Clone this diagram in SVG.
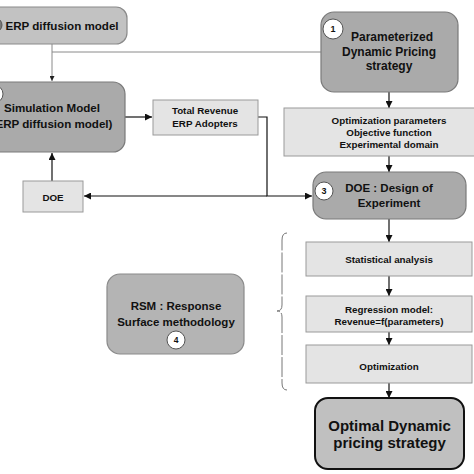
<svg xmlns="http://www.w3.org/2000/svg" width="474" height="474" viewBox="0 0 474 474">
<defs>
<style>
.t{font-family:"Liberation Sans",Arial,sans-serif;font-weight:bold;fill:#111;text-anchor:middle}
.big{font-size:11.6px}
.sm{font-size:9.8px}
.dark{fill:#aaaaaa;stroke:#7a7a7a;stroke-width:1.2}
.mid{fill:#c2c2c2;stroke:#8a8a8a;stroke-width:1.2}
.light{fill:#e4e4e4;stroke:#9a9a9a;stroke-width:1}
.num{fill:#fff;stroke:#555;stroke-width:1}
.c{fill:none;stroke:#111;stroke-width:1.2}
.g{fill:none;stroke:#8a8a8a;stroke-width:1}
</style>
<marker id="ah" viewBox="0 0 10 10" refX="10" refY="5" markerWidth="7" markerHeight="7" markerUnits="userSpaceOnUse" orient="auto">
<path d="M0,0 L10,5 L0,10 z" fill="#111"/>
</marker>
<marker id="ahs" viewBox="0 0 10 10" refX="10" refY="5" markerWidth="5" markerHeight="5" markerUnits="userSpaceOnUse" orient="auto">
<path d="M0,0 L10,5 L0,10 z" fill="#222"/>
</marker>
</defs>

<g id="connectors">
<path class="g" d="M52,44 V81" marker-end="url(#ahs)"/>
<path class="g" d="M52,52 H321"/>
<path class="c" d="M125,117 H152" marker-end="url(#ah)"/>
<path class="c" d="M258,117 H267 V196 H312" marker-end="url(#ah)"/>
<path class="c" d="M267,196 H84" marker-end="url(#ah)"/>
<path class="c" d="M52,181 V153" marker-end="url(#ah)"/>
<path class="c" d="M389,92 V108" marker-end="url(#ah)"/>
<path class="c" d="M389,156 V172" marker-end="url(#ah)"/>
<path class="c" d="M389,219 V242" marker-end="url(#ah)"/>
<path class="c" d="M389,276 V296" marker-end="url(#ah)"/>
<path class="c" d="M389,332 V345" marker-end="url(#ah)"/>
<path class="c" d="M389,383 V398" marker-end="url(#ah)"/>
</g>

<g id="erp-diffusion">
<rect class="mid" x="-20" y="7" width="147" height="37" rx="11"/>
<circle cx="-5" cy="25" r="7" fill="#777" stroke="#555"/>
<text class="t big" x="62" y="30">ERP diffusion model</text>
</g>

<g id="simulation">
<rect class="dark" x="-25" y="82" width="150" height="70" rx="12"/>
<circle class="num" cx="-6" cy="94" r="9"/>
<text class="t big" x="52" y="112">Simulation Model</text>
<text class="t big" x="52" y="128">(ERP diffusion model)</text>
</g>

<g id="total-revenue">
<rect class="light" x="153" y="100" width="105" height="35"/>
<text class="t sm" x="205" y="114">Total Revenue</text>
<text class="t sm" x="205" y="127">ERP Adopters</text>
</g>

<g id="doe">
<rect class="light" x="23" y="181" width="60" height="31"/>
<text class="t sm" x="53" y="200.5">DOE</text>
</g>

<g id="parameterized">
<rect class="dark" x="321" y="12" width="137" height="80" rx="13"/>
<circle class="num" cx="333" cy="29" r="10"/>
<text class="t" x="333" y="32" style="font-size:9px">1</text>
<text class="t big" x="392" y="41" style="font-size:12px">Parameterized</text>
<text class="t big" x="389" y="56" style="font-size:12px">Dynamic Pricing</text>
<text class="t big" x="389" y="70" style="font-size:12px">strategy</text>
</g>

<g id="optimization-parameters">
<rect class="light" x="284" y="108" width="200" height="48"/>
<text class="t sm" x="389" y="123.5">Optimization parameters</text>
<text class="t sm" x="389" y="135.5">Objective function</text>
<text class="t sm" x="389" y="147.5">Experimental domain</text>
</g>

<g id="doe-design">
<rect class="dark" x="313" y="172" width="153" height="47" rx="13"/>
<circle class="num" cx="324" cy="191" r="9"/>
<text class="t" x="324" y="194" style="font-size:9px">3</text>
<text class="t big" x="389" y="192" style="font-size:11.5px">DOE : Design of</text>
<text class="t big" x="389" y="207" style="font-size:11.5px">Experiment</text>
</g>

<g id="brace">
<path d="M287,233 Q282,233 282,240 V305 Q282,311 277,311 Q282,311 282,317 V383 Q282,390 287,390" fill="none" stroke="#777" stroke-width="1" stroke-dasharray="20 2"/>
</g>

<g id="statistical-analysis">
<rect class="light" x="306" y="242" width="166" height="34"/>
<text class="t sm" x="389" y="262.5">Statistical analysis</text>
</g>

<g id="regression">
<rect class="light" x="306" y="296" width="166" height="36"/>
<text class="t sm" x="389" y="312.5">Regression model:</text>
<text class="t sm" x="389" y="324.5">Revenue=f(parameters)</text>
</g>

<g id="optimization">
<rect class="light" x="306" y="345" width="166" height="38"/>
<text class="t sm" x="389" y="369.5">Optimization</text>
</g>

<g id="optimal">
<rect x="315" y="398" width="149" height="71" rx="13" fill="#c0c0c0" stroke="#111" stroke-width="2"/>
<text class="t" x="389.5" y="430.5" style="font-size:15px">Optimal Dynamic</text>
<text class="t" x="389.5" y="448" style="font-size:15px">pricing strategy</text>
</g>

<g id="rsm">
<rect class="mid" x="107" y="274" width="137" height="80" rx="13" style="fill:#b4b4b4"/>
<text class="t big" x="176" y="310" style="font-size:11.5px">RSM : Response</text>
<text class="t big" x="176" y="326" style="font-size:11.5px">Surface methodology</text>
<circle class="num" cx="176" cy="340" r="9"/>
<text class="t" x="176" y="343" style="font-size:8.5px">4</text>
</g>
</svg>
